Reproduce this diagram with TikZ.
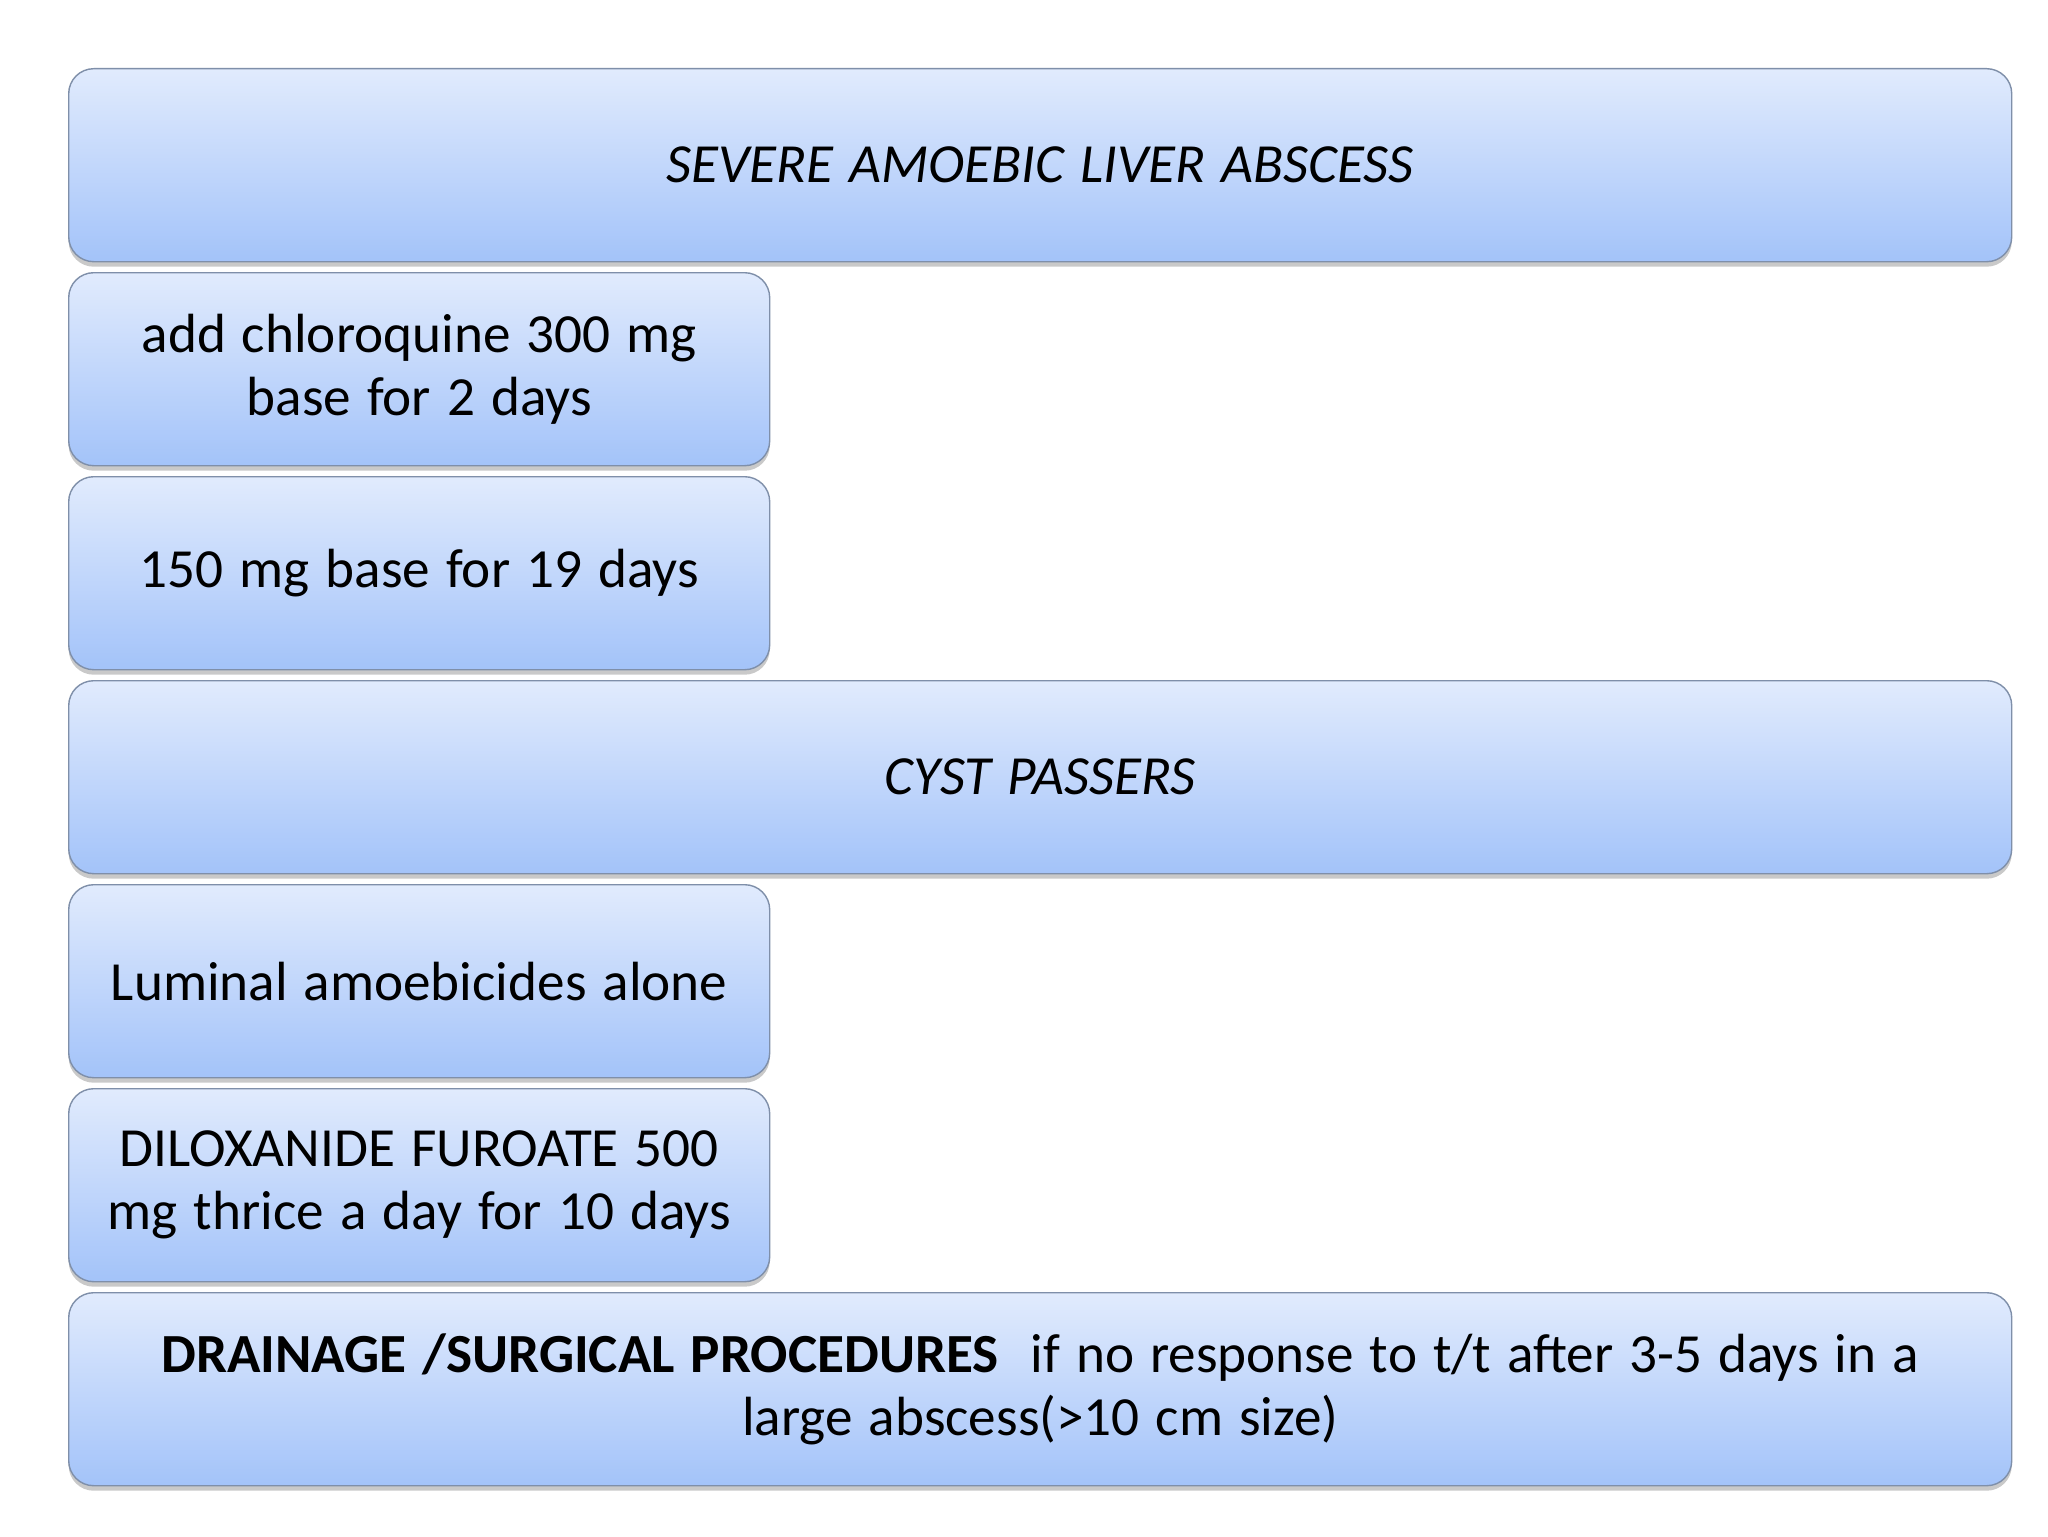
\documentclass[tikz,border=0pt]{standalone}
\usepackage{fontspec}
\setmainfont{Carlito}
\usetikzlibrary{shadows}
\definecolor{boxtop}{HTML}{E1EBFD}
\definecolor{boxbot}{HTML}{A3C3F9}
\definecolor{boxline}{HTML}{7F8FA9}
\newcommand\tsp{\spaceskip=0.29em\relax}
\tikzset{
  box/.style={draw=boxline, line width=0.7pt, rounded corners=12.5pt,
    top color=boxtop, bottom color=boxbot, anchor=north west,
    minimum height=96.5pt, align=center, inner sep=0pt,
    font=\fontsize{27.6}{31.5}\selectfont,
    drop shadow={shadow xshift=0pt, shadow yshift=-2.5pt, opacity=0.35, fill=black!60}},
  wide/.style={box, minimum width=971.5pt, text width=950pt},
  narrow/.style={box, minimum width=350.5pt, text width=345pt},
}
\begin{document}
\begin{tikzpicture}[x=0.5pt,y=-0.5pt]
\useasboundingbox (0,0) rectangle (2048,1536);
\fill[white] (0,0) rectangle (2048,1536);
\node[wide] (severe) at (68,68) {\tsp\itshape SEVERE AMOEBIC LIVER ABSCESS};
\node[narrow] (chloro) at (68,272) {\tsp add chloroquine 300 mg\\base for 2 days};
\node[narrow] (base) at (68,476) {\tsp 150 mg base for 19 days};
\node[wide] (cyst) at (68,680) {\tsp\itshape CYST PASSERS};
\node[narrow] (luminal) at (68,884) {\tsp Luminal amoebicides alone};
\node[narrow] (dilox) at (68,1088) {\tsp DILOXANIDE FUROATE 500\\mg thrice a day for 10 days};
\node[wide] (drain) at (68,1292) {\tsp\textbf{DRAINAGE /SURGICAL PROCEDURES}\ \ if no response to t/t after 3-5 days in a\\large abscess(>10 cm size)};
\end{tikzpicture}
\end{document}
